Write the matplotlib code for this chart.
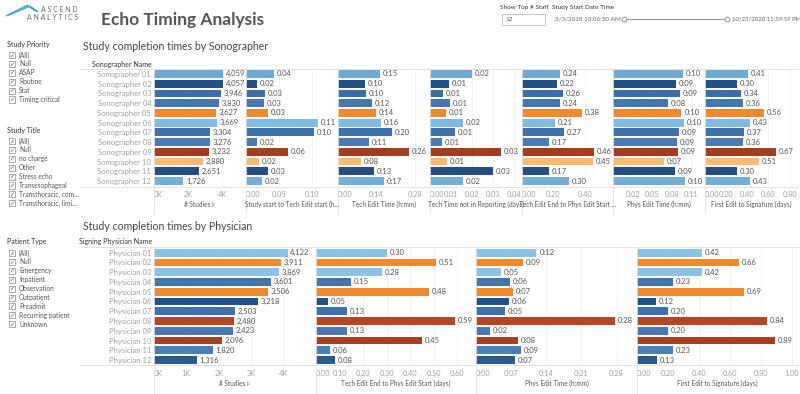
import matplotlib.pyplot as plt
from matplotlib.patches import Rectangle
from matplotlib.lines import Line2D
import numpy as np

plt.rcParams['font.family'] = ['Lato', 'DejaVu Sans']

W, H = 800, 394

sonographers = [f'Sonographer {i:02d}' for i in range(1, 13)]
physicians = [f'Physician {i:02d}' for i in range(1, 13)]

# sonographer panel values (times in days, edit times in minutes)
sono_studies = [4059, 4057, 3946, 3830, 3627, 3669, 3304, 3276, 3232, 2880, 2651, 1726]
sono_start_to_tech = [0.042, 0.016, 0.029, 0.027, 0.034, 0.109, 0.103, 0.016, 0.064, 0.020, 0.033, 0.024]
sono_tech_edit_min = [15.8, 10.3, 10.6, 12.7, 14.4, 16.1, 20.3, 11.6, 26.8, 8.5, 13.5, 17.2]
sono_tech_not_rep = [0.020, 0.009, 0.006, 0.0095, 0.0076, 0.0157, 0.012, 0.0057, 0.034, 0.008, 0.030, 0.016]
sono_tech_to_phys = [0.24, 0.22, 0.26, 0.24, 0.38, 0.21, 0.27, 0.17, 0.46, 0.45, 0.17, 0.30]
sono_phys_edit_min = [10.2, 9.3, 9.9, 8.0, 10.05, 10.4, 9.7, 9.4, 9.55, 7.5, 9.07, 10.6]
sono_edit_to_sign = [0.41, 0.30, 0.34, 0.36, 0.56, 0.43, 0.37, 0.36, 0.67, 0.51, 0.30, 0.43]

# physician panel values
phys_studies = [4122, 3911, 3869, 3601, 3506, 3218, 2503, 2480, 2423, 2096, 1820, 1316]
phys_tech_to_phys = [0.30, 0.51, 0.28, 0.15, 0.48, 0.05, 0.13, 0.59, 0.13, 0.45, 0.06, 0.08]
phys_edit_min = [12.4, 9.6, 5.1, 6.9, 7.5, 6.7, 5.9, 28.5, 2.9, 8.6, 9.3, 7.9]
phys_edit_to_sign = [0.42, 0.66, 0.42, 0.23, 0.69, 0.12, 0.20, 0.84, 0.20, 0.89, 0.23, 0.13]

sono_colors = ['#6fa9d8', '#22518a', '#3b6ea8', '#4577af', '#f0892b', '#80b9e3',
               '#3d72ab', '#4a7cb3', '#a63c1f', '#fdbb6b', '#254f84', '#74aedb']
phys_colors = ['#8bc2e8', '#f0892b', '#8bc2e8', '#4075ad', '#f0892b', '#22518a',
               '#3d72ab', '#b4471f', '#4679b2', '#a93f1f', '#4a7eb5', '#2a5a8e']

priority_items = ['(All)', 'Null', 'ASAP', 'Routine', 'Stat', 'Timing critical']
title_items = ['(All)', 'Null', 'no charge', 'Other', 'Stress echo', 'Transesophageal',
               'Transthoracic, com...', 'Transthoracic, limi...']
patient_items = ['(All)', 'Null', 'Emergency', 'Inpatient', 'Observation', 'Outpatient',
                 'Preadmit', 'Recurring patient', 'Unknown']

fig = plt.figure(figsize=(8, 3.94), dpi=100)
fig.patch.set_facecolor('white')


def fx(px):
    return px / W


def fy(py):
    return 1 - py / H


def ftext(x, y, s, **kw):
    kw.setdefault('va', 'center')
    fig.text(fx(x), fy(y), s, **kw)


def fline(xs, ys, **kw):
    fig.add_artist(Line2D([fx(v) for v in xs], [fy(v) for v in ys], transform=fig.transFigure, **kw))


def fmt_count(v):
    return f'{v:,}'


def fmt_days(v):
    return f'{v:.2f}'


def fmt_hmm(v):
    return f'{int(v // 60)}:{int(v % 60):02d}'


def draw_panel(x0, x1, y0, y1, values, colors, xmax, ticks, tick_labels, fmt, title, names=None):
    ax = fig.add_axes([fx(x0), fy(y1), fx(x1) - fx(x0), fy(y0) - fy(y1)])
    y = np.arange(len(values))
    ax.barh(y, values, height=0.8, color=colors)
    ax.set_xlim(0, xmax)
    ax.set_ylim(len(values) - 0.5, -0.5)
    ax.set_xticks(ticks)
    ax.set_xticklabels(tick_labels)
    ax.tick_params(axis='x', length=0, pad=4, labelsize=5.3, labelcolor='#a0a0a0')
    # tableau keeps the zero label inside the pane
    for t, lab in zip(ticks, ax.get_xticklabels()):
        if t == 0:
            lab.set_ha('left')
    if names is None:
        ax.set_yticks([])
    else:
        ax.set_yticks(y)
        ax.set_yticklabels(names)
        ax.tick_params(axis='y', length=0, pad=2, labelsize=5.5, labelcolor='#a0a0a0')
    for t in ticks:
        ax.axvline(t, color='#f0f0f0', lw=0.6, zorder=0)
    for s in ax.spines.values():
        s.set_visible(False)
    for yi, v in zip(y, values):
        ax.annotate(fmt(v), (v, yi), xytext=(2, 0), textcoords='offset points',
                    va='center', ha='left', fontsize=5.5, color='#555555')
    ftext((x0 + x1) / 2, y1 + 19, title, ha='center', fontsize=4.7, color='#555555')
    return ax


# header: logo, title, parameters
for off in [0, 1.6, 3.2]:
    fline([6 + off, 27 + off, 35 + off], [16 - off * 0.3, 5 + off * 0.4, 11 + off * 0.2],
          color='#3a9cc7', lw=0.7)
ftext(59, 9.5, 'A S C E N D', ha='center', fontsize=5, color='#707070')
ftext(53, 17, 'A N A L Y T I C S', ha='center', fontsize=5, color='#707070')
ftext(101, 20, 'Echo Timing Analysis', ha='left', fontsize=12.5, fontweight='bold', color='#555555')

ftext(500, 8, 'Show Top # Staff', ha='left', fontsize=4.6, color='#333333')
fig.add_artist(Rectangle((fx(502), fy(25)), fx(545) - fx(502), fy(14) - fy(25),
                         transform=fig.transFigure, facecolor='white', edgecolor='#bbbbbb', lw=0.6))
ftext(505, 19.5, '12', ha='left', fontsize=4.6, color='#555555')
ftext(552, 8, 'Study Start Date Time', ha='left', fontsize=4.6, color='#333333')
ftext(555, 19, '3/3/2018 10:06:50 AM', ha='left', fontsize=4.5, color='#666666')
fline([624, 727], [19, 19], color='#999999', lw=0.8)
for cx in [624, 727]:
    fline([cx], [19], marker='o', markersize=3.5, markerfacecolor='white',
          markeredgecolor='#888888', markeredgewidth=0.6, lw=0)
ftext(732, 19, '10/23/2020 11:59:59 PM', ha='left', fontsize=4.3, color='#666666')


# left filters
def filter_block(y, header, items):
    ftext(7, y, header, ha='left', fontsize=5, color='#333333')
    for i, item in enumerate(items):
        yy = y + 11 + i * 8.9
        fig.add_artist(Rectangle((fx(9), fy(yy + 3)), fx(6), fy(0) - fy(6), transform=fig.transFigure,
                                 facecolor='white', edgecolor='#888888', lw=0.5))
        ftext(12, yy + 0.3, '\u2713', ha='center', fontsize=4.5, color='#555555', family='DejaVu Sans')
        ftext(19, yy, item, ha='left', fontsize=4.8, color='#555555')


filter_block(44, 'Study Priority', priority_items)
filter_block(130, 'Study Title', title_items)
filter_block(242, 'Patient Type', patient_items)

# sonographer section
ftext(83, 47, 'Study completion times by Sonographer', ha='left', fontsize=7.6, color='#444444')
ftext(152, 64, 'Sonographer Name', ha='right', fontsize=5, color='#333333')
top_y0, top_y1 = 69.1, 185.9
draw_panel(154, 246, top_y0, top_y1, sono_studies, sono_colors, 5400, [0, 2000, 4000],
           ['0K', '2K', '4K'], fmt_count, '# Studies \u22a7', names=sonographers)
draw_panel(246, 338, top_y0, top_y1, sono_start_to_tech, sono_colors, 0.14, [0, 0.05, 0.10],
           ['0.00', '0.05', '0.10'], fmt_days, 'Study start to Tech Edit start (h...')
draw_panel(338, 430, top_y0, top_y1, sono_tech_edit_min, sono_colors, 34.5, [0, 14.4, 28.8],
           ['0:00', '0:14', '0:28'], fmt_hmm, 'Tech Edit Time (h:mm)')
draw_panel(430, 522, top_y0, top_y1, sono_tech_not_rep, sono_colors, 0.044,
           [0, 0.01, 0.02, 0.03, 0.04], ['0.00', '0.01', '0.02', '0.03', '0.04'], fmt_days,
           'Tech Time not in Reporting (days)')
draw_panel(522, 613, top_y0, top_y1, sono_tech_to_phys, sono_colors, 0.58, [0, 0.2, 0.4],
           ['0.00', '0.20', '0.40'], fmt_days, 'Tech Edit End to Phys Edit Start ...')
draw_panel(613, 705, top_y0, top_y1, sono_phys_edit_min, sono_colors, 13.5, [2.88, 5.76, 8.64, 11.52],
           ['0:02', '0:05', '0:08', '0:11'], fmt_hmm, 'Phys Edit Time (h:mm)')
draw_panel(705, 798, top_y0, top_y1, sono_edit_to_sign, sono_colors, 0.88, [0, 0.2, 0.4, 0.6, 0.8],
           ['0.00', '0.20', '0.40', '0.60', '0.80'], fmt_days, 'First Edit to Signature (days)')
fline([80, 798], [68.5, 68.5], color='#dddddd', lw=0.6)
fline([80, 798], [186.5, 186.5], color='#dddddd', lw=0.6)
for xv in [154, 246, 338, 430, 522, 613, 705]:
    fline([xv, xv], [68.5, 213], color='#e2e2e2', lw=0.6)

# physician section
ftext(83, 227, 'Study completion times by Physician', ha='left', fontsize=7.6, color='#444444')
ftext(152, 242, 'Signing Physician Name', ha='right', fontsize=5, color='#333333')
bot_y0, bot_y1 = 247.8, 364.9
draw_panel(154, 316, bot_y0, bot_y1, phys_studies, phys_colors, 5000, [0, 1000, 2000, 3000, 4000],
           ['0K', '1K', '2K', '3K', '4K'], fmt_count, '# Studies \u22a7', names=physicians)
draw_panel(316, 476, bot_y0, bot_y1, phys_tech_to_phys, phys_colors, 0.68,
           [0, 0.1, 0.2, 0.3, 0.4, 0.5, 0.6], ['0.00', '0.10', '0.20', '0.30', '0.40', '0.50', '0.60'],
           fmt_days, 'Tech Edit End to Phys Edit Start (days)')
draw_panel(476, 637, bot_y0, bot_y1, phys_edit_min, phys_colors, 33, [0, 7.2, 14.4, 21.6, 28.8],
           ['0:00', '0:07', '0:14', '0:21', '0:28'], fmt_hmm, 'Phys Edit Time (h:mm)')
draw_panel(637, 798, bot_y0, bot_y1, phys_edit_to_sign, phys_colors, 1.04, [0, 0.2, 0.4, 0.6, 0.8, 1.0],
           ['0.00', '0.20', '0.40', '0.60', '0.80', '1.00'], fmt_days, 'First Edit to Signature (days)')
fline([80, 798], [247.3, 247.3], color='#dddddd', lw=0.6)
fline([80, 798], [365.4, 365.4], color='#dddddd', lw=0.6)
for xv in [154, 316, 476, 637]:
    fline([xv, xv], [247.3, 394], color='#e2e2e2', lw=0.6)

fig.savefig('out.png', dpi=100)
